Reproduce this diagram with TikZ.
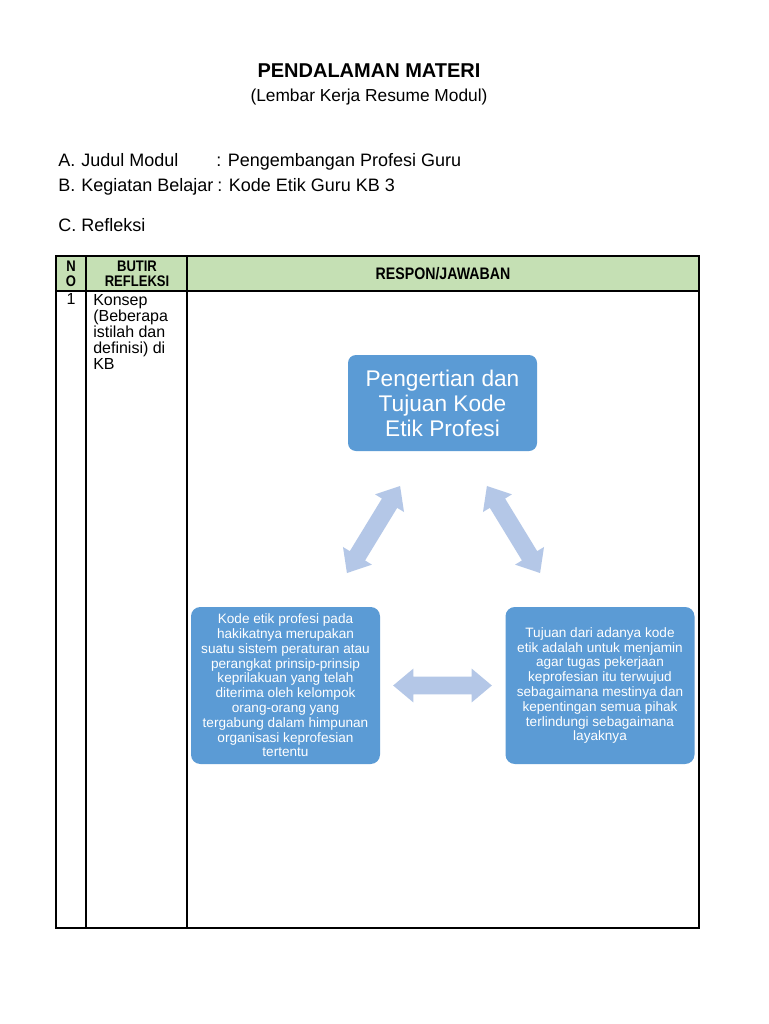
\documentclass[tikz,border=0pt]{standalone}
\usepackage{fontspec}
\setmainfont{Liberation Sans}
\newfontfamily\narrowfont[FakeStretch=0.85]{Liberation Sans}
\usetikzlibrary{shapes.arrows}
\definecolor{boxblue}{HTML}{5B9BD5}
\definecolor{arrblue}{HTML}{B4C7E7}
\definecolor{hdrgreen}{HTML}{C5E0B4}
\begin{document}
\begin{tikzpicture}[x=0.75pt,y=-0.75pt,
  body/.style={font=\fontsize{13.5}{15}\selectfont, inner sep=0pt, anchor=base west},
  hdr/.style={font=\narrowfont\fontsize{11.5}{11.25}\selectfont\bfseries, inner sep=0pt, align=center},
  cell/.style={font=\fontsize{12}{12}\selectfont, inner sep=0pt, anchor=base west},
  bigbox/.style={fill=boxblue, rounded corners=6pt, minimum width=141.75pt, minimum height=72pt,
     text=white, align=center, inner sep=0pt, font=\fontsize{17}{18.75}\selectfont},
  smallbox/.style={fill=boxblue, rounded corners=7pt, minimum width=141.75pt, minimum height=117.75pt,
     text=white, align=center, inner sep=0pt, font=\fontsize{10.2}{11.1}\selectfont},
  blockarrow/.style={double arrow, fill=arrblue, draw=none, inner sep=0pt, text height=13pt, text depth=0pt,
     double arrow head extend=6pt, double arrow tip angle=80}
]
\useasboundingbox[fill=white] (0,0) rectangle (768,1024);
% title
\node[font=\fontsize{15}{16}\selectfont\bfseries, inner sep=0pt, anchor=base] (title) at (369,78) {PENDALAMAN MATERI};
\node[font=\fontsize{13}{15}\selectfont, inner sep=0pt, anchor=base] (subtitle) at (369,102) {(Lembar Kerja Resume Modul)};
% items
\node[body] (a) at (58,166) {A.};
\node[body] (al) at (81,166) {Judul Modul};
\node[body] (av) at (216,166) {: Pengembangan Profesi Guru};
\node[body] (b) at (58,191) {B.};
\node[body] (bl) at (81,191) {Kegiatan Belajar};
\node[body] (bv) at (217,191) {: Kode Etik Guru KB 3};
\node[body] (c) at (58,231) {C.};
\node[body] (cl) at (81,231) {Refleksi};
% table
\fill[hdrgreen] (56,256) rectangle (699,291);
\draw[line width=0.8pt] (56,256) rectangle (699,928);
\draw[line width=0.8pt] (56,291) -- (699,291);
\draw[line width=0.8pt] (86,256) -- (86,928);
\draw[line width=0.8pt] (187,256) -- (187,928);
\node[hdr] (hno) at (71,273.5) {N\\O};
\node[hdr] (hbutir) at (137,273.5) {BUTIR\\REFLEKSI};
\node[hdr, font=\narrowfont\fontsize{12.5}{13}\selectfont\bfseries] (hresp) at (443,273.5) {RESPON/JAWABAN};
\node[cell, anchor=base] (n1) at (71,304) {1};
\node[cell, anchor=north west, align=left] (konsep) at (93,294) {Konsep\\(Beberapa\\istilah dan\\definisi) di\\KB};
% diagram
\node[bigbox] (top) at (442.5,403) {Pengertian dan\\Tujuan Kode\\Etik Profesi};
\node[smallbox] (left) at (285.5,685.5) {Kode etik profesi pada\\hakikatnya merupakan\\suatu sistem peraturan atau\\perangkat prinsip-prinsip\\keprilakuan yang telah\\diterima oleh kelompok\\orang-orang yang\\tergabung dalam himpunan\\organisasi keprofesian\\tertentu};
\node[smallbox] (right) at (600,685.5) {Tujuan dari adanya kode\\etik adalah untuk menjamin\\agar tugas pekerjaan\\keprofesian itu terwujud\\sebagaimana mestinya dan\\kepentingan semua pihak\\terlindungi sebagaimana\\layaknya};
\node[blockarrow, minimum height=74pt] (arrh) at (442.5,685.5) {};
\node[blockarrow, minimum height=76.5pt, rotate=58.6] (arrl) at (373.5,529.5) {};
\node[blockarrow, minimum height=76.5pt, rotate=-58.6] (arrr) at (513.5,529.5) {};
\end{tikzpicture}
\end{document}
